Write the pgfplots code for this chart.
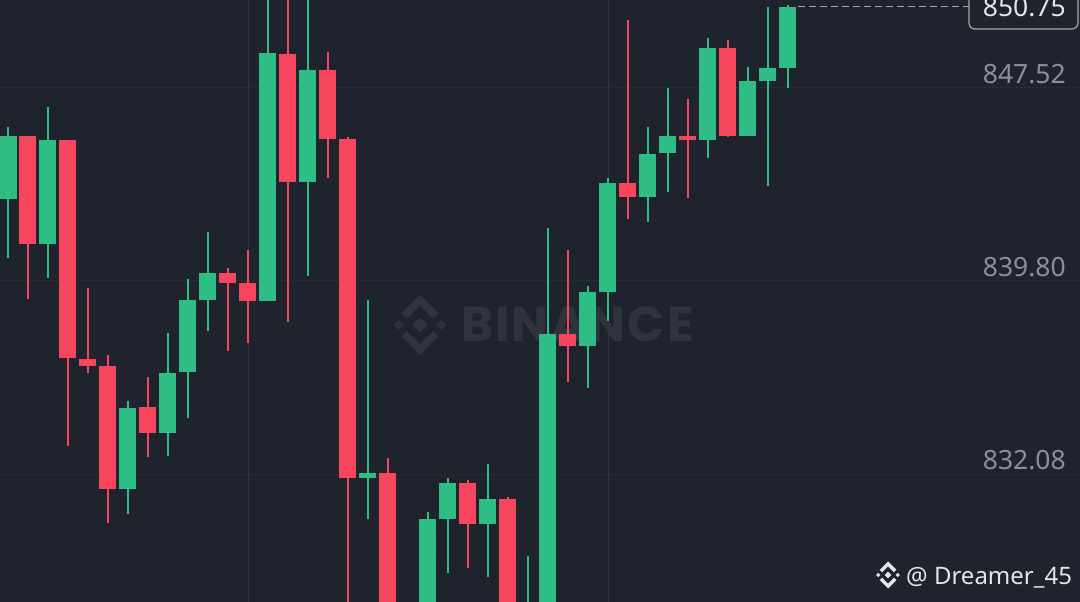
\documentclass[border=0pt]{standalone}
\usepackage{fontspec}
\setmainfont{Noto Sans}
\newfontfamily\wmfont{Poppins}
\usepackage{pgfplots}
\usepackage{pgfplotstable}
\pgfplotsset{compat=1.18}
\definecolor{bgc}{RGB}{31,35,45}
\definecolor{gridc}{RGB}{46,51,62}
\definecolor{tgrey}{RGB}{138,144,154}
\definecolor{cgreen}{RGB}{46,189,133}
\definecolor{cred}{RGB}{246,70,93}
\definecolor{wmc}{RGB}{47,51,62}
\definecolor{lightc}{RGB}{226,229,234}
\definecolor{dashc}{RGB}{160,165,174}

\pgfplotstableread{
x o h l c
0 843.08 845.95 840.72 845.59
2 841.28 846.75 839.93 845.43
6 831.51 835.02 830.52 834.74
8 833.75 837.74 832.83 836.14
9 836.18 839.89 834.35 839.05
10 839.05 841.76 837.82 840.13
13 839.01 851.81 839.01 848.90
15 843.76 851.81 840.01 848.22
18 831.95 839.05 830.32 832.15
21 824.90 830.60 823.90 830.32
22 830.32 831.95 828.16 831.75
24 830.12 832.51 828.01 831.12
26 825.10 828.84 823.50 826.09
27 826.09 841.92 825.49 837.70
29 837.22 839.61 835.54 839.37
30 839.37 843.91 838.21 843.72
32 843.16 845.95 842.16 844.87
33 844.91 847.50 843.36 845.59
35 845.43 849.50 844.71 849.10
37 845.59 848.34 845.59 847.78
38 847.78 850.73 843.60 848.30
39 848.30 850.81 847.50 850.75
}\greentab

\pgfplotstableread{
x o h l c
1 845.59 845.59 839.09 841.28
3 845.43 845.43 833.23 836.74
4 836.70 839.53 836.14 836.42
5 836.42 836.86 830.16 831.51
7 834.78 835.98 832.79 833.75
11 840.13 840.33 837.02 839.73
12 839.73 841.04 837.34 839.01
14 848.86 851.81 838.17 843.76
16 848.22 848.94 843.91 845.47
17 845.47 845.55 825.49 831.95
19 832.15 832.75 824.90 825.49
20 825.49 826.61 823.50 824.90
23 831.75 831.87 828.36 830.12
25 831.12 831.20 824.90 825.10
28 837.70 841.04 835.78 837.22
31 843.72 850.22 842.28 843.16
34 845.59 847.07 843.12 845.43
36 849.10 849.42 845.55 845.59
}\redtab

\tikzset{binlogo/.pic={
 \fill (0,1) -- (0.62,0.38) -- (0.44,0.2) -- (0,0.64) -- (-0.44,0.2) -- (-0.62,0.38) -- cycle;
 \fill (0,-1) -- (0.62,-0.38) -- (0.44,-0.2) -- (0,-0.64) -- (-0.44,-0.2) -- (-0.62,-0.38) -- cycle;
 \fill (0,0.25) -- (0.25,0) -- (0,-0.25) -- (-0.25,0) -- cycle;
 \fill (0.72,0.16) -- (0.88,0) -- (0.72,-0.16) -- (0.56,0) -- cycle;
 \fill (-0.72,0.16) -- (-0.56,0) -- (-0.72,-0.16) -- (-0.88,0) -- cycle;
}}

\pgfplotsset{candle/.style 2 args={draw=none, mark=none, forget plot,
  error bars/.cd, y dir=plus, y explicit, error mark=none,
  error bar style={draw=#1, line width=#2}}}

\begin{document}
\begin{tikzpicture}
% pixel-coordinate scope (origin top-left, y downward)
\begin{scope}[x=1pt, y=-1pt, shift={(0pt,602pt)}]
  \fill[bgc] (0,0) rectangle (1080,602);
  % grid
  \foreach \yy in {87.6,280.7,474.8}{
    \draw[gridc, line width=1pt, dash pattern=on 2pt off 2pt] (0,\yy) -- (1080,\yy);
  }
  \draw[gridc, line width=1pt] (248,0) -- (248,602);
  \draw[gridc, line width=1pt] (608,0) -- (608,602);
  % watermark
  \pic[fill=wmc, scale=30] at (420,325) {binlogo};
  \node[anchor=base west, inner sep=0pt, text=wmc, font=\wmfont\bfseries\fontsize{49}{52}\selectfont] at (461,342) {B\kern2pt I\kern2pt N\kern2pt A\kern2pt N\kern2pt C\kern2pt E};
\end{scope}

\begin{axis}[
  at={(0pt,0pt)}, anchor=south west,
  width=1080pt, height=602pt, scale only axis,
  xmin=-0.4, xmax=53.6, ymin=827.01, ymax=851.013,
  axis lines=none, ticks=none,
]
% wicks
\addplot[candle={cgreen}{2.4pt}]
  table[x=x, y=l, y error plus expr=\thisrow{h}-\thisrow{l}] {\greentab};
\addplot[candle={cred}{2.4pt}]
  table[x=x, y=l, y error plus expr=\thisrow{h}-\thisrow{l}] {\redtab};
% bodies
\addplot[candle={cgreen}{17pt}]
  table[x=x, y=o, y error plus expr=\thisrow{c}-\thisrow{o}] {\greentab};
\addplot[candle={cred}{17pt}]
  table[x=x, y=c, y error plus expr=\thisrow{o}-\thisrow{c}] {\redtab};
\end{axis}

\begin{scope}[x=1pt, y=-1pt, shift={(0pt,602pt)}]
  % last price line and label
  \draw[dashc, line width=1.6pt, dash pattern=on 7pt off 4pt] (798,6.5) -- (969,6.5);
  \draw[dashc, line width=1.2pt, rounded corners=6pt] (969,-12) rectangle (1078,29);
  \node[anchor=base east, inner sep=0pt, text=lightc, font=\fontsize{26.5}{30}\selectfont] at (1066,17) {850.75};
  % price labels
  \node[anchor=base east, inner sep=0pt, text=tgrey, font=\fontsize{26.5}{30}\selectfont] at (1066,84) {847.52};
  \node[anchor=base east, inner sep=0pt, text=tgrey, font=\fontsize{26.5}{30}\selectfont] at (1066,277) {839.80};
  \node[anchor=base east, inner sep=0pt, text=tgrey, font=\fontsize{26.5}{30}\selectfont] at (1066,470) {832.08};
  % credit
  \pic[fill=lightc, scale=13.5] at (888,575) {binlogo};
  \node[anchor=base west, inner sep=0pt, text=lightc, font=\fontsize{24}{28}\selectfont] at (906,585) {@ Dreamer\_45};
\end{scope}
\pgfresetboundingbox
\useasboundingbox (0,0) rectangle (1080pt,602pt);
\end{tikzpicture}
\end{document}
